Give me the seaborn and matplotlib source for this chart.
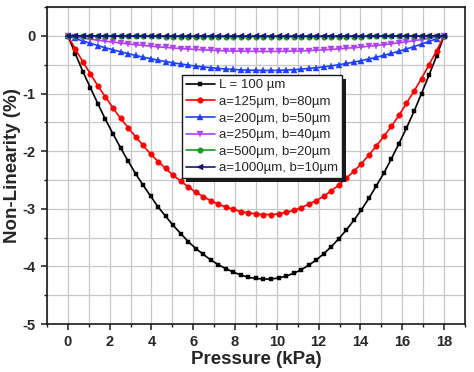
import matplotlib
matplotlib.use("Agg")
import matplotlib.pyplot as plt
import matplotlib.patheffects as pe
from matplotlib.ticker import MultipleLocator
import seaborn as sns
import pandas as pd
import numpy as np

# pressure samples (kPa), 51 points from 0 to 18
pressure = np.linspace(0, 18, 51)

nl_L100 = [0, -0.31, -0.62, -0.90, -1.18, -1.45, -1.70, -1.94, -2.17, -2.39, -2.59,
           -2.78, -2.97, -3.13, -3.29, -3.43, -3.57, -3.69, -3.79, -3.89, -3.97,
           -4.04, -4.10, -4.15, -4.19, -4.21, -4.22, -4.22, -4.20, -4.17, -4.12,
           -4.06, -3.98, -3.89, -3.78, -3.66, -3.52, -3.37, -3.20, -3.02, -2.82,
           -2.60, -2.38, -2.13, -1.87, -1.60, -1.31, -1.00, -0.68, -0.35, 0]
nl_a125 = [0, -0.23, -0.45, -0.66, -0.87, -1.06, -1.25, -1.43, -1.59, -1.75, -1.90,
           -2.05, -2.18, -2.30, -2.42, -2.52, -2.62, -2.71, -2.79, -2.86, -2.92,
           -2.97, -3.01, -3.05, -3.07, -3.09, -3.10, -3.10, -3.09, -3.06, -3.03,
           -2.98, -2.92, -2.86, -2.78, -2.69, -2.59, -2.47, -2.35, -2.22, -2.07,
           -1.91, -1.74, -1.57, -1.38, -1.17, -0.96, -0.74, -0.50, -0.26, 0]
nl_a200 = [0, -0.045, -0.088, -0.129, -0.168, -0.206, -0.242, -0.276, -0.309, -0.339, -0.369,
           -0.396, -0.422, -0.446, -0.468, -0.488, -0.507, -0.524, -0.539, -0.553, -0.565,
           -0.575, -0.583, -0.590, -0.595, -0.598, -0.600, -0.600, -0.597, -0.593, -0.586,
           -0.577, -0.566, -0.553, -0.538, -0.520, -0.501, -0.479, -0.455, -0.429, -0.401,
           -0.370, -0.338, -0.303, -0.266, -0.227, -0.186, -0.143, -0.097, -0.050, 0]
nl_a250 = [0, -0.020, -0.039, -0.058, -0.076, -0.093, -0.109, -0.124, -0.139, -0.153, -0.166,
           -0.178, -0.190, -0.200, -0.210, -0.220, -0.228, -0.236, -0.243, -0.249, -0.254,
           -0.259, -0.263, -0.266, -0.268, -0.269, -0.270, -0.270, -0.269, -0.267, -0.264,
           -0.260, -0.255, -0.249, -0.242, -0.234, -0.225, -0.215, -0.205, -0.193, -0.180,
           -0.167, -0.152, -0.136, -0.120, -0.102, -0.084, -0.064, -0.044, -0.022, 0]
nl_a500 = [0, -0.001, -0.002, -0.003, -0.004, -0.005, -0.006, -0.007, -0.008, -0.008, -0.009,
           -0.010, -0.010, -0.011, -0.012, -0.012, -0.013, -0.013, -0.013, -0.014, -0.014,
           -0.014, -0.015, -0.015, -0.015, -0.015, -0.015, -0.015, -0.015, -0.015, -0.015,
           -0.014, -0.014, -0.014, -0.013, -0.013, -0.013, -0.012, -0.011, -0.011, -0.010,
           -0.009, -0.008, -0.008, -0.007, -0.006, -0.005, -0.004, -0.002, -0.001, 0]
nl_a1000 = [0, 0.000, -0.001, -0.001, -0.001, -0.001, -0.002, -0.002, -0.002, -0.002, -0.002,
            -0.003, -0.003, -0.003, -0.003, -0.003, -0.003, -0.003, -0.004, -0.004, -0.004,
            -0.004, -0.004, -0.004, -0.004, -0.004, -0.004, -0.004, -0.004, -0.004, -0.004,
            -0.004, -0.004, -0.004, -0.004, -0.003, -0.003, -0.003, -0.003, -0.003, -0.003,
            -0.002, -0.002, -0.002, -0.002, -0.002, -0.001, -0.001, -0.001, 0.000, 0]

labels = ["L = 100 µm", "a=125µm, b=80µm", "a=200µm, b=50µm",
          "a=250µm, b=40µm", "a=500µm, b=20µm", "a=1000µm, b=10µm"]
series = [nl_L100, nl_a125, nl_a200, nl_a250, nl_a500, nl_a1000]
colors = ["#000000", "#ff0000", "#1f3fff", "#b040f0", "#1a9a1a", "#14147a"]
markers = ["s", "o", "^", "v", "o", "<"]
msizes = [3.2, 4, 4, 4, 4, 4]

sns.set_theme(style="ticks")
plt.rcParams['font.family'] = ['Liberation Sans', 'DejaVu Sans']
plt.rcParams['axes.unicode_minus'] = False

fig = plt.figure(figsize=(4.74, 3.72), dpi=100)
ax = fig.add_axes([0.099, 0.129, 0.882, 0.852])

for y, lab, c, m, ms in zip(series, labels, colors, markers, msizes):
    df = pd.DataFrame({"Pressure": pressure, "NL": y})
    sns.lineplot(data=df, x="Pressure", y="NL", ax=ax, color=c, marker=m,
                 markersize=ms, markeredgewidth=0.3, markeredgecolor=c,
                 linewidth=1.2, label=lab)

ax.set_xlim(-1, 19)
ax.set_ylim(-5, 0.5)
ax.xaxis.set_major_locator(MultipleLocator(2))
ax.xaxis.set_minor_locator(MultipleLocator(1))
ax.yaxis.set_major_locator(MultipleLocator(1))
ax.yaxis.set_minor_locator(MultipleLocator(0.5))
ax.grid(True, which="both", color="#c8c8c8", linewidth=0.9)
ax.set_axisbelow(True)

ax.tick_params(which="major", direction="out", length=4.5, width=1.1, labelsize=10.5, color="k")
ax.tick_params(which="minor", direction="out", length=2.5, width=1.0, color="k")
for t in ax.get_xticklabels() + ax.get_yticklabels():
    t.set_fontweight("bold")
for s in ax.spines.values():
    s.set_color("k")
    s.set_linewidth(1.2)

ax.set_xlabel("Pressure (kPa)", fontsize=13.5, fontweight="bold", labelpad=1)
ax.set_ylabel("Non-Linearity (%)", fontsize=13.5, fontweight="bold", labelpad=1)

leg = ax.legend(loc="upper left", bbox_to_anchor=(0.323, 0.785), borderaxespad=0,
                fontsize=9.5, fancybox=False, framealpha=1, edgecolor="k",
                handlelength=2.2, handletextpad=0.3, labelspacing=0.33,
                borderpad=0.3)
leg.get_frame().set_linewidth(1.0)
leg.get_frame().set_path_effects([pe.withSimplePatchShadow(offset=(3, -3), shadow_rgbFace="k", alpha=1.0)])

fig.savefig("out.png", dpi=100)
